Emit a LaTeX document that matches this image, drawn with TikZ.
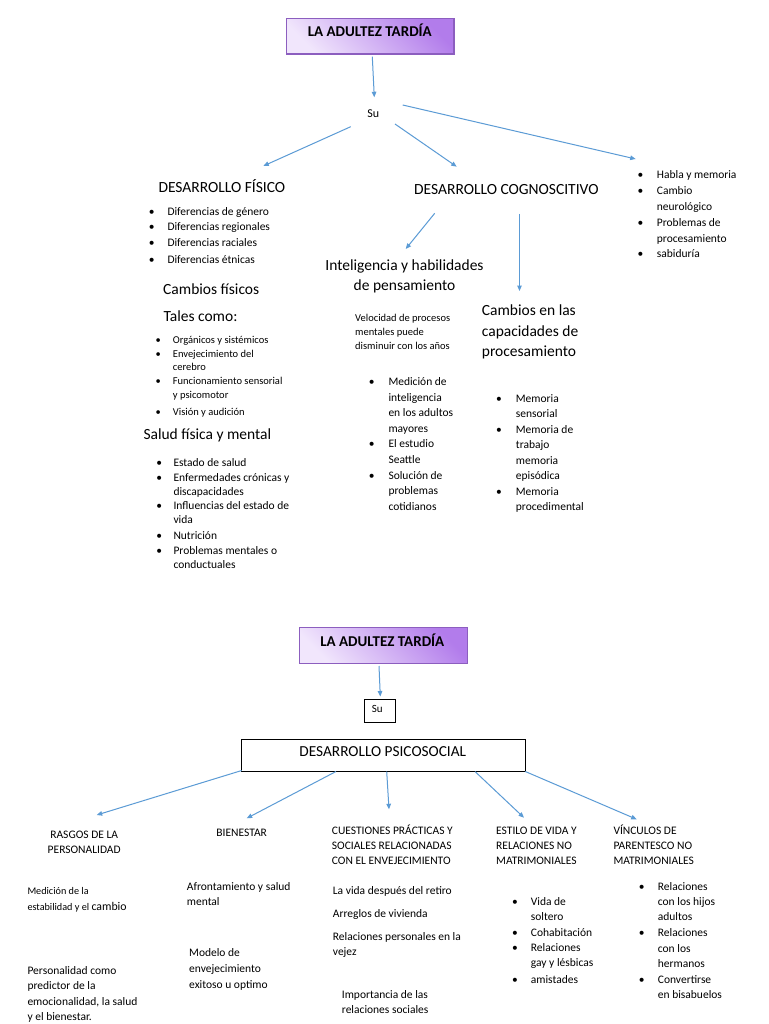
\documentclass[tikz,border=0pt]{standalone}
\usepackage{fontspec}
\setmainfont{Carlito}
\usetikzlibrary{arrows.meta}
\definecolor{arr}{HTML}{5B9BD5}
\definecolor{purD}{HTML}{B27CEB}
\definecolor{purL}{HTML}{F1E6FC}
\definecolor{purB}{HTML}{8C5EBF}
\newcommand\fsz[1]{\fontsize{#1}{#1}\selectfont}
\newcounter{tn}
\newcommand\tl[4]{\stepcounter{tn}\node[#1, name=t\arabic{tn}] at (#2,#3) {#4};}
\begin{document}
\begin{tikzpicture}[x=1pt,y=-1pt,
  t/.style={inner sep=0pt, anchor=base west, font=\fsz{11.5}},
  tc/.style={inner sep=0pt, anchor=base, font=\fsz{11.5}},
  hd/.style={inner sep=0pt, anchor=base west, font=\fsz{15.5}},
  hdc/.style={inner sep=0pt, anchor=base, font=\fsz{15.5}},
  sm/.style={inner sep=0pt, anchor=base west, font=\fsz{10.5}},
  bu/.style={inner sep=0pt, anchor=base, font=\fsz{11.5}},
  bus/.style={inner sep=0pt, anchor=base, font=\fsz{10.5}},
  ttl/.style={inner sep=0pt, anchor=base, font=\fsz{15}\bfseries},
  pbox/.style={draw=purB, line width=1.2pt, top color=purD, bottom color=purL, shading angle=-45, inner sep=0pt},
  kbox/.style={draw=black, line width=0.9pt, fill=white, inner sep=0pt},
  ar/.style={draw=arr, line width=1pt, -{Triangle[length=5.5pt,width=4.5pt]}}
]
\useasboundingbox (0,0) rectangle (768,1024);
\fill[white] (0,0) rectangle (768,1024);

% ================= TOP DIAGRAM =================
\node[pbox, minimum width=167.3pt, minimum height=35.7pt, name=box1] at (370.3,36.2) {};
\node[ttl, name=title1] at (369.8,36.7) {LA ADULTEZ TARDÍA};
\node[inner sep=0pt, anchor=base, font=\fsz{12}, name=su1] at (373.3,117.2) {Su};

\node[hd, name=fis] at (158.3,192.7) {DESARROLLO FÍSICO};
\node[hd, name=cog] at (414,194.3) {DESARROLLO COGNOSCITIVO};

\coordinate (c1a) at (372.3,56.7);  \coordinate (c1b) at (374.3,97.3);
\coordinate (c2a) at (350.7,126.7); \coordinate (c2b) at (263.3,166);
\coordinate (c3a) at (395,124);     \coordinate (c3b) at (456.7,166.7);
\coordinate (c4a) at (402.7,105);   \coordinate (c4b) at (635.7,159);
\coordinate (c5a) at (434.7,213.3); \coordinate (c5b) at (405.7,249);
\coordinate (c6a) at (519.5,214);   \coordinate (c6b) at (519.5,291);
\draw[ar] (c1a) -- (c1b);
\draw[ar] (c2a) -- (c2b);
\draw[ar] (c3a) -- (c3b);
\draw[ar] (c4a) -- (c4b);
\draw[ar] (c5a) -- (c5b);
\draw[ar] (c6a) -- (c6b);

% list under Desarrollo fisico
\foreach \y/\s in {215/{Diferencias de género},231/{Diferencias regionales},247/{Diferencias raciales},263/{Diferencias étnicas}}{
  \node[bu] at (151.7,\y) {\textbullet};
  \node[t] at (167.3,\y) {\s};
}

\tl{hd}{163}{294}{Cambios físicos}
\tl{hd}{163.3}{321}{Tales como:}

\foreach \y in {343,357,384.5,415}{\node[bus] at (158.3,\y) {\textbullet};}
\tl{sm}{172.7}{343}{Orgánicos y sistémicos}
\tl{sm}{172.7}{357}{Envejecimiento del}
\tl{sm}{172.7}{370.5}{cerebro}
\tl{sm}{172.7}{384.5}{Funcionamiento sensorial}
\tl{sm}{172.7}{398}{y psicomotor}
\tl{sm}{172.7}{415}{Visión y audición}

\tl{hd}{143.3}{439.5}{Salud física y mental}
\foreach \y in {466,481,509,539,554}{\node[bu] at (159.3,\y) {\textbullet};}
\tl{t}{173.3}{466}{Estado de salud}
\tl{t}{173.3}{481}{Enfermedades crónicas y}
\tl{t}{173.3}{495}{discapacidades}
\tl{t}{173.3}{509}{Influencias del estado de}
\tl{t}{173.3}{523.5}{vida}
\tl{t}{173.3}{539}{Nutrición}
\tl{t}{173.3}{554}{Problemas mentales o}
\tl{t}{173.3}{568.5}{conductuales}

% cognoscitivo
\tl{hdc}{404.5}{270}{Inteligencia y habilidades}
\tl{hdc}{404.5}{290.5}{de pensamiento}

\tl{sm}{355}{321.5}{Velocidad de procesos}
\tl{sm}{355}{335.5}{mentales puede}
\tl{sm}{355}{349.5}{disminuir con los años}

\foreach \y in {385,447.5,479}{\node[bu] at (371.7,\y) {\textbullet};}
\tl{t}{388.3}{385}{Medición de}
\tl{t}{388.3}{401}{inteligencia}
\tl{t}{388.3}{416.5}{en los adultos}
\tl{t}{388.3}{432}{mayores}
\tl{t}{388.3}{447.5}{El estudio}
\tl{t}{388.3}{463}{Seattle}
\tl{t}{388.3}{479}{Solución de}
\tl{t}{388.3}{494}{problemas}
\tl{t}{388.3}{510}{cotidianos}

\tl{hd}{481.7}{315.5}{Cambios en las}
\tl{hd}{481.7}{336}{capacidades de}
\tl{hd}{481.7}{356.5}{procesamiento}

\foreach \y in {402,433,495}{\node[bu] at (499,\y) {\textbullet};}
\tl{t}{515.7}{402}{Memoria}
\tl{t}{515.7}{417.5}{sensorial}
\tl{t}{515.7}{433}{Memoria de}
\tl{t}{515.7}{448.5}{trabajo}
\tl{t}{515.7}{464}{memoria}
\tl{t}{515.7}{479.5}{episódica}
\tl{t}{515.7}{495}{Memoria}
\tl{t}{515.7}{510.5}{procedimental}

% right list
\foreach \y in {179,195,226,257.5}{\node[bu] at (640.5,\y) {\textbullet};}
\tl{t}{656.7}{179}{Habla y memoria}
\tl{t}{656.7}{195}{Cambio}
\tl{t}{656.7}{210.5}{neurológico}
\tl{t}{656.7}{226}{Problemas de}
\tl{t}{656.7}{242}{procesamiento}
\tl{t}{656.7}{257.5}{sabiduría}

% ================= BOTTOM DIAGRAM =================
\node[pbox, minimum width=168pt, minimum height=36pt, name=box2] at (383.3,645.3) {};
\node[ttl, name=title2] at (382.3,646.3) {LA ADULTEZ TARDÍA};

\node[kbox, minimum width=30.7pt, minimum height=23.4pt, name=subox] at (379.7,711) {};
\node[inner sep=0pt, anchor=base, font=\fsz{11}, name=su2] at (377.2,712) {Su};

\node[kbox, minimum width=283.6pt, minimum height=31.7pt, name=psibox] at (383.5,755.2) {};
\node[inner sep=0pt, anchor=base, font=\fsz{15.3}, name=psi] at (382.8,756.7) {DESARROLLO PSICOSOCIAL};

\coordinate (d1a) at (379,666);     \coordinate (d1b) at (380.3,696.5);
\coordinate (e1a) at (241.7,770.5); \coordinate (e1b) at (96.7,815);
\coordinate (e2a) at (336,771.5);   \coordinate (e2b) at (246.7,818.3);
\coordinate (e3a) at (386.7,771.5); \coordinate (e3b) at (389,809.3);
\coordinate (e4a) at (475,771.5);   \coordinate (e4b) at (524,817.7);
\coordinate (e5a) at (525.3,771.5); \coordinate (e5b) at (636.7,819.3);
\draw[ar] (d1a) -- (d1b);
\draw[ar] (e1a) -- (e1b);
\draw[ar] (e2a) -- (e2b);
\draw[ar] (e3a) -- (e3b);
\draw[ar] (e4a) -- (e4b);
\draw[ar] (e5a) -- (e5b);

\tl{tc}{84.2}{838}{RASGOS DE LA}
\tl{tc}{84.2}{853}{PERSONALIDAD}
\tl{tc}{241.7}{836}{BIENESTAR}
\tl{t}{331.7}{834}{CUESTIONES PRÁCTICAS Y}
\tl{t}{331.7}{849.5}{SOCIALES RELACIONADAS}
\tl{t}{331.7}{864.5}{CON EL ENVEJECIMIENTO}
\tl{t}{496}{834}{ESTILO DE VIDA Y}
\tl{t}{496}{849.5}{RELACIONES NO}
\tl{t}{496}{864.5}{MATRIMONIALES}
\tl{t}{613.3}{834}{VÍNCULOS DE}
\tl{t}{613.3}{849.5}{PARENTESCO NO}
\tl{t}{613.3}{864.5}{MATRIMONIALES}

\tl{sm}{27.3}{894}{\fsz{10.2}Medición de la}
\tl{sm}{27.3}{910}{\fsz{10.2}estabilidad y el \fsz{11.8}cambio}
\tl{t}{27.3}{974}{Personalidad como}
\tl{t}{27.3}{989.5}{predictor de la}
\tl{t}{27.3}{1005}{emocionalidad, la salud}
\tl{t}{27.3}{1020}{y el bienestar.}

\tl{t}{186.7}{890.5}{Afrontamiento y salud}
\tl{t}{186.7}{905.5}{mental}
\tl{t}{189}{956.5}{Modelo de}
\tl{t}{189}{972.5}{envejecimiento}
\tl{t}{189}{988}{exitoso u optimo}

\tl{t}{332.7}{894}{La vida después del retiro}
\tl{t}{332.7}{917.5}{Arreglos de vivienda}
\tl{t}{332.7}{940}{Relaciones personales en la}
\tl{t}{332.7}{955}{vejez}
\tl{t}{341.7}{998.5}{Importancia de las}
\tl{t}{341.7}{1013.5}{relaciones sociales}

\foreach \y in {905.7,936,951.7,983.3}{\node[bu] at (515,\y) {\textbullet};}
\tl{t}{530.7}{905.7}{Vida de}
\tl{t}{530.7}{920.5}{soltero}
\tl{t}{530.7}{936}{Cohabitación}
\tl{t}{530.7}{951.7}{Relaciones}
\tl{t}{530.7}{966.7}{gay y lésbicas}
\tl{t}{530.7}{983.3}{amistades}

\foreach \y in {890.7,936.7,983.3}{\node[bu] at (641.7,\y) {\textbullet};}
\tl{t}{657.7}{890.7}{Relaciones}
\tl{t}{657.7}{905.7}{con los hijos}
\tl{t}{657.7}{920.7}{adultos}
\tl{t}{657.7}{936.7}{Relaciones}
\tl{t}{657.7}{952.3}{con los}
\tl{t}{657.7}{967}{hermanos}
\tl{t}{657.7}{983.3}{Convertirse}
\tl{t}{657.7}{998.7}{en bisabuelos}
\end{tikzpicture}
\end{document}
